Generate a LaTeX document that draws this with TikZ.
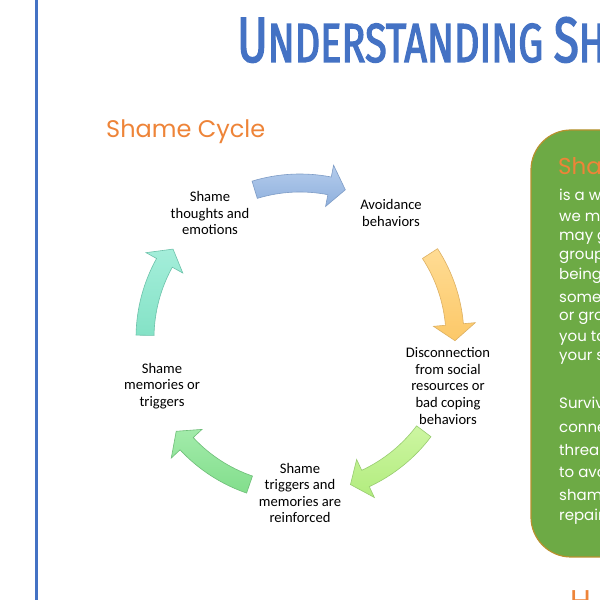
\documentclass[tikz,border=0pt]{standalone}
\usepackage{fontspec}
\setmainfont{Carlito}
\newfontfamily\titlefont[FakeStretch=0.72,FakeBold=2.2]{Fira Sans}
\newfontfamily\handfont{Poppins}
\definecolor{titleblue}{HTML}{4472C4}
\definecolor{headorange}{HTML}{EE8438}
\definecolor{boxgreen}{HTML}{6DAA45}
\definecolor{boxborder}{HTML}{B8912E}
\definecolor{bluetop}{HTML}{B4CCEC}
\definecolor{bluebot}{HTML}{8FB0DD}
\definecolor{bluebd}{HTML}{7E9CC6}
\definecolor{oratop}{HTML}{FFDC94}
\definecolor{orabot}{HTML}{FCC868}
\definecolor{orabd}{HTML}{DDB062}
\definecolor{lgtop}{HTML}{CDF6A2}
\definecolor{lgbot}{HTML}{B2EC7E}
\definecolor{lgbd}{HTML}{98CC70}
\definecolor{grtop}{HTML}{A2EBAA}
\definecolor{grbot}{HTML}{82DE8C}
\definecolor{grbd}{HTML}{6EBE78}
\definecolor{tetop}{HTML}{A4EEDA}
\definecolor{tebot}{HTML}{84E2C6}
\definecolor{tebd}{HTML}{6CC2AA}
\newcommand\cycarrow[5]{%
  \pgfmathsetmacro\hb{#2+6}%
  \draw[#5, line width=0.6pt, top color=#3, bottom color=#4]
    (#1:164) arc[start angle=#1, end angle=\hb, radius=164]
    -- (\hb:176) -- (#2:155) -- (\hb:134) -- (\hb:146)
    arc[start angle=\hb, end angle=#1, radius=146] -- cycle;}
\tikzset{
  cyctext/.style={align=center, font=\fontsize{14.6}{16.6}\selectfont, text=black, inner sep=0pt},
  boxline/.style={anchor=west, inner sep=0pt, text=white, font=\handfont\fontsize{15}{18}\selectfont},
}
\begin{document}
\begin{tikzpicture}[x=1pt,y=1pt]
\useasboundingbox (0,0) rectangle (600,600);
\clip (0,0) rectangle (600,600);
\fill[white] (0,0) rectangle (600,600);
% left vertical rule
\draw[titleblue, line width=3pt] (36,-5) -- (36,605);
% title
\node[anchor=base west, inner sep=0pt, text=titleblue] (title) at (237,538)
  {\titlefont\fontsize{64}{64}\selectfont U\fontsize{55}{55}\selectfont NDERSTANDING \fontsize{64}{64}\selectfont S\fontsize{55}{55}\selectfont H};
% subtitle
\node[anchor=base west, inner sep=0pt, text=headorange] (cyc) at (106,462)
  {\handfont\fontsize{24}{24}\selectfont Shame Cycle};
% cycle
\begin{scope}[shift={(300,262)}]
  \cycarrow{107}{73}{bluetop}{bluebot}{bluebd}
  \cycarrow{33}{-1}{oratop}{orabot}{orabd}
  \cycarrow{-37}{-71}{lgtop}{lgbot}{lgbd}
  \cycarrow{-109}{-143}{grtop}{grbot}{grbd}
  \cycarrow{179}{145}{tetop}{tebot}{tebd}
\end{scope}
\node[cyctext] (thoughts) at (210,387) {Shame\\thoughts and\\emotions};
\node[cyctext] (avoid) at (391,387) {Avoidance\\behaviors};
\node[cyctext] (disc) at (448,214) {Disconnection\\from social\\resources or\\bad coping\\behaviors};
\node[cyctext] (reinf) at (300,107) {Shame\\triggers and\\memories are\\reinforced};
\node[cyctext] (memo) at (162,214) {Shame\\memories or\\triggers};
% right green box
\draw[boxborder, line width=1.2pt, fill=boxgreen, rounded corners=40pt] (531,43) rectangle (660,470);
\node[anchor=base west, inner sep=0pt, text=headorange] (sha) at (558,425)
  {\handfont\fontsize{23}{23}\selectfont Sha};
\foreach \t/\y [count=\i] in {is a w/195, we ma/217, may g/238, group./257, being/276, somet/297, or gro/318, you to/338, your s/358, Surviv/403, connec/428, threa/450, to avo/472, shame/495, repair/517}
  \node[boxline] (bl\i) at (559,600-\y) {\t};
% bottom partial heading
\node[anchor=base, inner sep=0pt, text=headorange] (next) at (581,-11)
  {\handfont\fontsize{30}{30}\selectfont H};
\end{tikzpicture}
\end{document}
